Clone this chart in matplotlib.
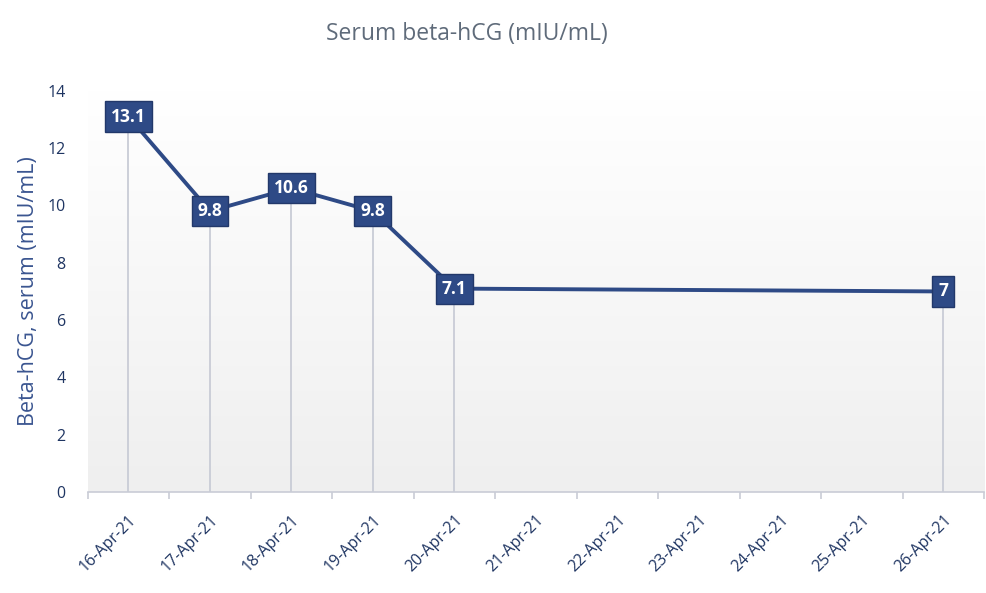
import matplotlib.pyplot as plt
import matplotlib.dates as mdates
import numpy as np
import pandas as pd

dates = ["2021-04-16", "2021-04-17", "2021-04-18", "2021-04-19", "2021-04-20", "2021-04-26"]
hcg = [13.1, 9.8, 10.6, 9.8, 7.1, 7.0]
labels = ["13.1", "9.8", "10.6", "9.8", "7.1", "7"]
axis_days = pd.date_range("2021-04-16", "2021-04-26", freq="D")

plt.rcParams['font.family'] = ['Open Sans', 'DejaVu Sans']

navy = '#2E4A86'
tick_col = '#1F3562'

x = pd.to_datetime(dates)
fig = plt.figure(figsize=(9.86, 5.93), dpi=100)
ax = fig.add_axes([0.089, 0.170, 0.909, 0.677])

# gradient background, white at top to light grey at bottom
grad = np.linspace(0.0, 1.0, 256).reshape(-1, 1)
xmin = mdates.date2num(pd.Timestamp("2021-04-15 12:00"))
xmax = mdates.date2num(pd.Timestamp("2021-04-26 12:00"))
bg = plt.cm.colors.LinearSegmentedColormap.from_list('bg', ['#ffffff', '#efefef'])
ax.imshow(grad, extent=[xmin, xmax, 0, 14], aspect='auto', cmap=bg, zorder=0)

# drop lines
ax.vlines(x, 0, hcg, color='#c9ccd6', lw=1.3, zorder=1)
ax.plot(x, hcg, color=navy, lw=2.8, zorder=2)
for xi, yi, lab in zip(x, hcg, labels):
    ax.text(xi, yi, lab, ha='center', va='center', color='white', fontsize=12.5, fontweight='bold',
            bbox=dict(boxstyle='square,pad=0.35', fc=navy, ec='#22386a', lw=1), zorder=3)

ax.set_xlim(xmin, xmax)
ax.set_ylim(0, 14)
ax.set_yticks(range(0, 15, 2))
ax.set_xticks(mdates.date2num(axis_days))
ax.set_xticklabels([d.strftime("%d-%b-%y").lstrip('0') for d in axis_days], rotation=45, ha='right',
                   rotation_mode='anchor', color=tick_col, fontsize=11.5)
ax.set_xticks(mdates.date2num(pd.date_range("2021-04-15 12:00", "2021-04-26 12:00", freq="D")), minor=True)
ax.tick_params(axis='x', which='major', length=0, pad=14)
ax.tick_params(axis='x', which='minor', length=5, color='#c9ccd6', width=1.2)
ax.tick_params(axis='y', length=0, labelcolor=tick_col, labelsize=11.5, pad=16)

for s in ['top', 'right', 'left']:
    ax.spines[s].set_visible(False)
ax.spines['bottom'].set_color('#c9ccd6')
ax.spines['bottom'].set_linewidth(1.2)

ax.set_ylabel('Beta-hCG, serum (mIU/mL)', color='#3a5590', fontsize=15.5)
ax.yaxis.set_label_coords(-0.054, 0.5)
fig.text(0.474, 0.942, 'Serum beta-hCG (mIU/mL)', ha='center', va='center', color='#5f6b7a', fontsize=16.5)

fig.savefig('out.png', dpi=100)
